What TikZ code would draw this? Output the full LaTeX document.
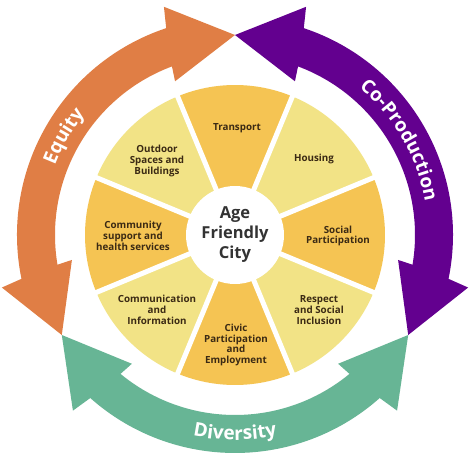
\documentclass[tikz,border=0pt]{standalone}
\usepackage{fontspec}
\setmainfont{Open Sans}
\usetikzlibrary{decorations.text}
\definecolor{eqorange}{HTML}{E07E45}
\definecolor{copurple}{HTML}{63008F}
\definecolor{divgreen}{HTML}{67B595}
\definecolor{dk}{HTML}{F5C453}
\definecolor{lt}{HTML}{F2E386}
\definecolor{labtext}{HTML}{3B2A14}
\definecolor{centertext}{HTML}{333333}
\newcommand\ringarrow[3]{%
  \fill[#3] (#1:200pt) -- (#1+17.3:239pt) -- (#1+18.4:218pt)
    arc[start angle=#1+18.4, end angle=#2-18.4, radius=218pt]
    -- (#2-17.3:239pt) -- (#2:200pt) -- (#2-21.3:165pt) -- (#2-20.5:180pt)
    arc[start angle=#2-20.5, end angle=#1+20.5, radius=180pt]
    -- (#1+21.3:165pt) -- cycle;}
\tikzset{
  seclabel/.style={align=center, text=labtext, font=\fontsize{9.8}{10.8}\selectfont\bfseries, inner sep=0pt},
  arctext/.style={decorate, decoration={text along path, text align=center, text color=white, text={#1}}}
}
\begin{document}
\begin{tikzpicture}[x=1pt,y=1pt]
\useasboundingbox[fill=white] (-235pt,-239pt) rectangle (239pt,235pt);
% ring arrows
\ringarrow{90}{210}{eqorange}
\ringarrow{-30}{90}{copurple}
\ringarrow{210}{330}{divgreen}
% arc texts
\path[arctext={|\fontsize{19}{19}\selectfont\bfseries|Equity}]
  (170:193pt) arc[start angle=170, end angle=130, radius=193pt];
\path[arctext={|\fontsize{19}{19}\selectfont\bfseries|Co-Production}]
  (60:193pt) arc[start angle=60, end angle=0, radius=193pt];
\path[arctext={|\fontsize{19}{19}\selectfont\bfseries|Diversity}]
  (245:205pt) arc[start angle=245, end angle=295, radius=205pt];
% wheel sectors
\foreach \a/\c in {90/dk,45/lt,0/dk,-45/lt,-90/dk,-135/lt,180/dk,135/lt}
  \fill[\c] (0,0) -- (\a-22.5:150pt) arc[start angle=\a-22.5, end angle=\a+22.5, radius=150pt] -- cycle;
\foreach \a in {22.5,67.5,...,337.5}
  \draw[white, line width=5pt] (0,0) -- (\a:153pt);
\fill[white] (0,0) circle[radius=49pt];
% center text
\node[align=center, text=centertext, font=\fontsize{16.5}{20}\selectfont\bfseries] (center) at (0,0) {Age\\Friendly\\City};
% sector labels
\node[seclabel] (transport) at (2,107) {Transport};
\node[seclabel] (housing) at (79,76) {Housing};
\node[seclabel] (social) at (103,-1) {Social\\Participation};
\node[seclabel] (respect) at (84,-75) {Respect\\and Social\\Inclusion};
\node[seclabel] (civic) at (1,-110) {Civic\\Participation\\and\\Employment};
\node[seclabel] (communication) at (-78,-75) {Communication\\and\\Information};
\node[seclabel] (community) at (-102,-1) {Community\\support and\\health services};
\node[seclabel] (outdoor) at (-78,74) {Outdoor\\Spaces and\\Buildings};
\end{tikzpicture}
\end{document}
